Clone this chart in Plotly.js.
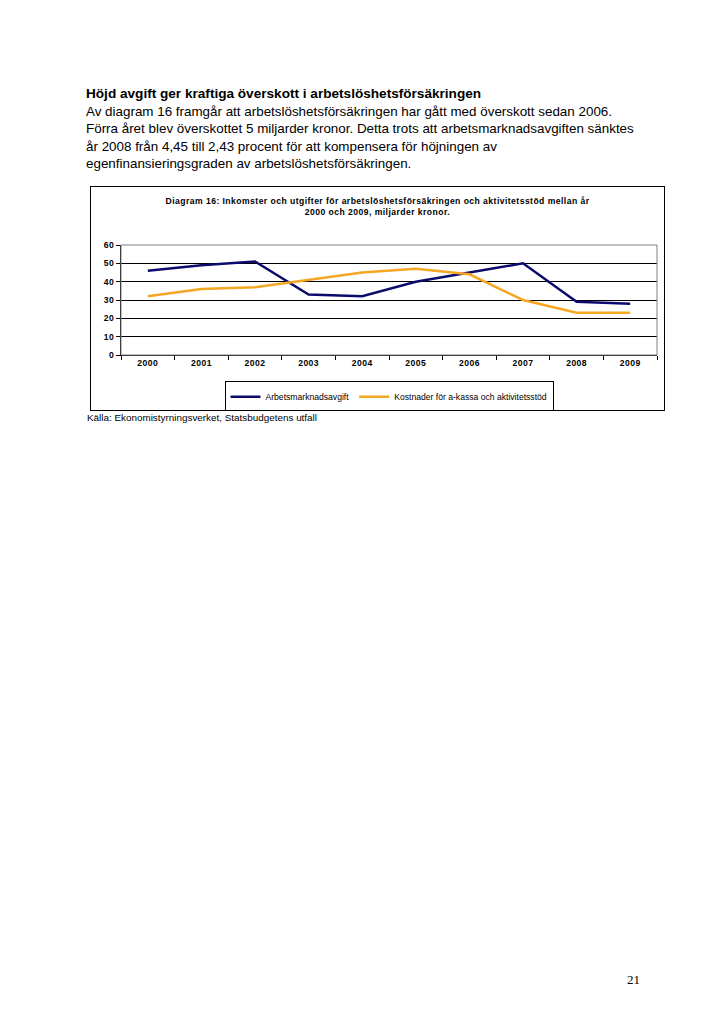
<!DOCTYPE html>
<html><head><meta charset="utf-8">
<script src="https://cdn.plot.ly/plotly-3.0.1.min.js"></script>
<style>
body{margin:0;background:#fff;width:728px;height:1030px;position:relative;font-family:"Liberation Sans",Arial,sans-serif;}
#txt{position:absolute;left:86px;top:85px;width:600px;font-size:13.4px;line-height:17.6px;color:#000;}
#txt b{font-size:13.6px;}
#chartbox{position:absolute;left:90px;top:186px;width:575px;height:225px;border:1px solid #000;box-sizing:border-box;overflow:hidden;}
#chart{position:absolute;left:0;top:0;width:573px;height:223px;}
#src{position:absolute;left:87px;top:412px;font-size:9.9px;color:#000;}
#pg{position:absolute;left:627px;top:972px;font-family:"Liberation Serif","Times New Roman",serif;font-size:13px;}
#chart .gtitle, #chart .xtick text, #chart .ytick text{letter-spacing:0.45px;}
</style></head>
<body>
<div id="txt"><b>Höjd avgift ger kraftiga överskott i arbetslöshetsförsäkringen</b><br>
Av diagram 16 framgår att arbetslöshetsförsäkringen har gått med överskott sedan 2006.<br>
Förra året blev överskottet 5 miljarder kronor. Detta trots att arbetsmarknadsavgiften sänktes<br>
år 2008 från 4,45 till 2,43 procent för att kompensera för höjningen av<br>
egenfinansieringsgraden av arbetslöshetsförsäkringen.</div>
<div id="chartbox"><div id="chart"></div></div>
<div id="src">Källa: Ekonomistyrningsverket, Statsbudgetens utfall</div>
<div id="pg">21</div>
<script>
const years = ["2000","2001","2002","2003","2004","2005","2006","2007","2008","2009"];
const arbetsmarknadsavgift = [46, 49, 51, 33, 32, 40, 45, 50, 29, 28];
const kostnader = [32, 36, 37, 41, 45, 47, 44, 30, 23, 23];
const yTicks = [0,10,20,30,40,50,60];

const traces = [
  {x: years, y: arbetsmarknadsavgift, type:'scatter', mode:'lines', name:'Arbetsmarknadsavgift',
   line:{color:'#0b0b6b', width:2.5}},
  {x: years, y: kostnader, type:'scatter', mode:'lines', name:'Kostnader för a-kassa och aktivitetsstöd',
   line:{color:'#f5a623', width:2.5}}
];
const layout = {
  width:573, height:223,
  margin:{l:30, r:7, t:58, b:55, autoexpand:false},
  paper_bgcolor:'#fff', plot_bgcolor:'#fff',
  font:{family:'"Liberation Sans", Arial, sans-serif', size:8.5, color:'#000'},
  title:{text:'<b>Diagram 16: Inkomster och utgifter för arbetslöshetsförsäkringen och aktivitetsstöd mellan år<br>2000 och 2009, miljarder kronor.</b>',
    font:{size:8.6, color:'#000'}, x:0.5, xanchor:'center', y:0.924, yanchor:'top'},
  xaxis:{type:'category', range:[-0.5,9.5], showgrid:false, showline:true, linecolor:'#000', linewidth:1,
    ticks:'outside', ticklen:4, tickcolor:'#000', tickson:'boundaries',
    tickfont:{size:8.6, color:'#000', weight:'bold'}, mirror:false, fixedrange:true},
  yaxis:{range:[0,60], tickvals:yTicks, showgrid:true, gridcolor:'#000', gridwidth:1,
    showline:true, linecolor:'#000', ticks:'outside', ticklen:4, tickcolor:'#000',
    tickfont:{size:8.6, color:'#000', weight:'bold'}, zeroline:false, fixedrange:true},
  shapes:[{type:'rect', xref:'paper', yref:'paper', x0:0, x1:1, y0:0, y1:1, line:{color:'#808080', width:1}, layer:'above'}],
  showlegend:true,
  legend:{orientation:'h', x:0.5, xanchor:'center', y:-0.38, yanchor:'middle',
    bordercolor:'#000', borderwidth:1, font:{size:8.6}, tracegroupgap:0},
};
Plotly.newPlot('chart', traces, layout, {displayModeBar:false, staticPlot:true});
</script>
</body></html>
